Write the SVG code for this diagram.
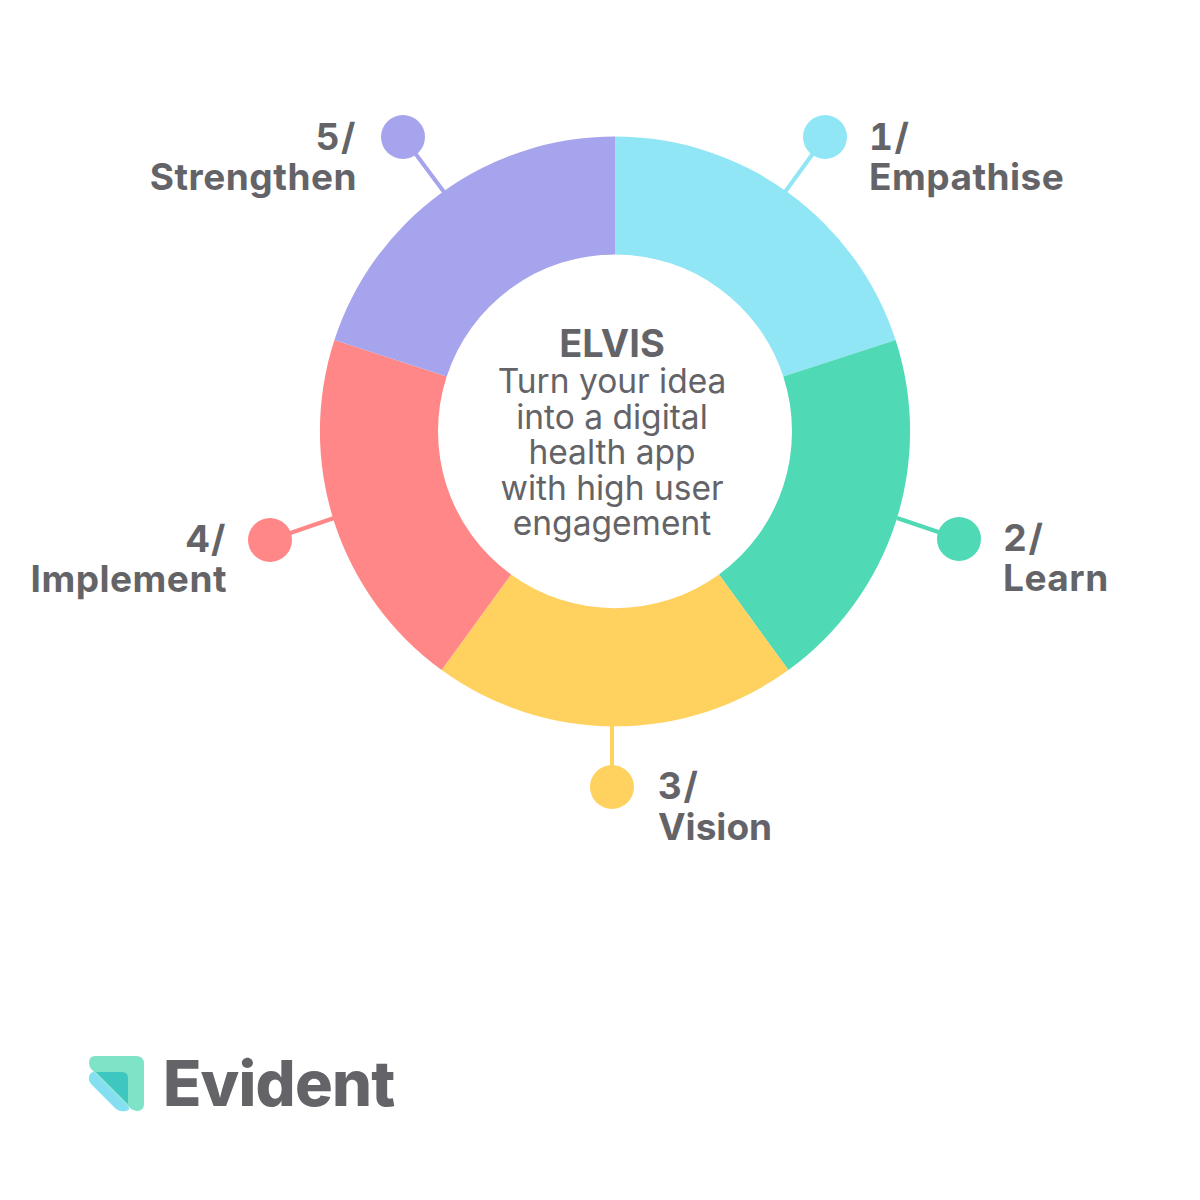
<svg xmlns="http://www.w3.org/2000/svg" width="1200" height="1200" viewBox="0 0 1200 1200">
<style>
text{font-family:"Inter","Liberation Sans",sans-serif;fill:#646468}
.l{font-size:37px;font-weight:700;letter-spacing:.5px;font-feature-settings:"tnum"}
.n{letter-spacing:1.5px}
.e{text-anchor:end}
.c{text-anchor:middle;font-size:33.500px;font-weight:400}
.t{text-anchor:middle;font-size:38px;font-weight:700}
.k{stroke-width:4;fill:none}
</style>
<rect width="1200" height="1200" fill="#fff"/>
<g id="connectors" class="k">
<line x1="825" y1="137" x2="785" y2="192" stroke="#91E6F6"/>
<line x1="959" y1="539" x2="897" y2="518" stroke="#4FD9B5"/>
<line x1="612" y1="787" x2="612" y2="725" stroke="#FFD15F"/>
<line x1="270" y1="540" x2="334" y2="518" stroke="#FF8787"/>
<line x1="403" y1="137" x2="444" y2="192" stroke="#A6A4EC"/>
</g>
<g id="node1"><path d="M615 136.500A295 295 0 0 1 895.600 340L783.300 376.500A177 177 0 0 0 615 254.500Z" fill="#91E6F6"/><circle cx="825" cy="137" r="22" fill="#91E6F6"/><text class="l n" x="869" y="150">1/</text><text class="l" x="869" y="190">Empathise</text></g>
<g id="node2"><path d="M895.600 340A295 295 0 0 1 788.400 670L719 574.500A177 177 0 0 0 783.300 376.500Z" fill="#4FD9B5"/><circle cx="959" cy="539" r="22" fill="#4FD9B5"/><text class="l n" x="1003" y="551">2/</text><text class="l" x="1003" y="591">Learn</text></g>
<g id="node3"><path d="M788.400 670A295 295 0 0 1 441.600 670L511 574.500A177 177 0 0 0 719 574.500Z" fill="#FFD15F"/><circle cx="612" cy="787" r="22" fill="#FFD15F"/><text class="l n" x="658" y="799">3/</text><text class="l" x="658" y="840" style="letter-spacing:0">Vision</text></g>
<g id="node4"><path d="M441.600 670A295 295 0 0 1 334.400 340L446.700 376.500A177 177 0 0 0 511 574.500Z" fill="#FF8787"/><circle cx="270" cy="540" r="22" fill="#FF8787"/><text class="l n e" x="227" y="552">4/</text><text class="l e" x="227" y="592">Implement</text></g>
<g id="node5"><path d="M334.400 340A295 295 0 0 1 615 136.500L615 254.500A177 177 0 0 0 446.700 376.500Z" fill="#A6A4EC"/><circle cx="403" cy="137" r="22" fill="#A6A4EC"/><text class="l n e" x="357" y="150">5/</text><text class="l e" x="357" y="190">Strengthen</text></g>
<g id="center">
<text class="t" x="612" y="357">ELVIS</text>
<text class="c" x="612" y="393">Turn your idea</text>
<text class="c" x="612" y="429">into a digital</text>
<text class="c" x="612" y="464">health app</text>
<text class="c" x="612" y="500">with high user</text>
<text class="c" x="612" y="535">engagement</text>
</g>
<g id="logo">
<path d="M95 1056H136Q144 1056 144 1064V1104Q144 1111 137 1111Q133 1111 130 1108L92 1070Q89 1067 89 1063Q89 1056 95 1056Z" fill="#7FE3C8"/>
<path d="M94 1072L128 1106Q131 1110 126 1111Q120 1112 116 1109L92 1085Q88 1081 89 1077Q90 1072 94 1072Z" fill="#84DFF0"/>
<path d="M96 1072H122Q128 1072 128 1078V1104Z" fill="#3EC6C0"/>
<text x="163" y="1106" style="font-size:63px;font-weight:800;letter-spacing:-.8px">Evident</text>
</g>
</svg>
